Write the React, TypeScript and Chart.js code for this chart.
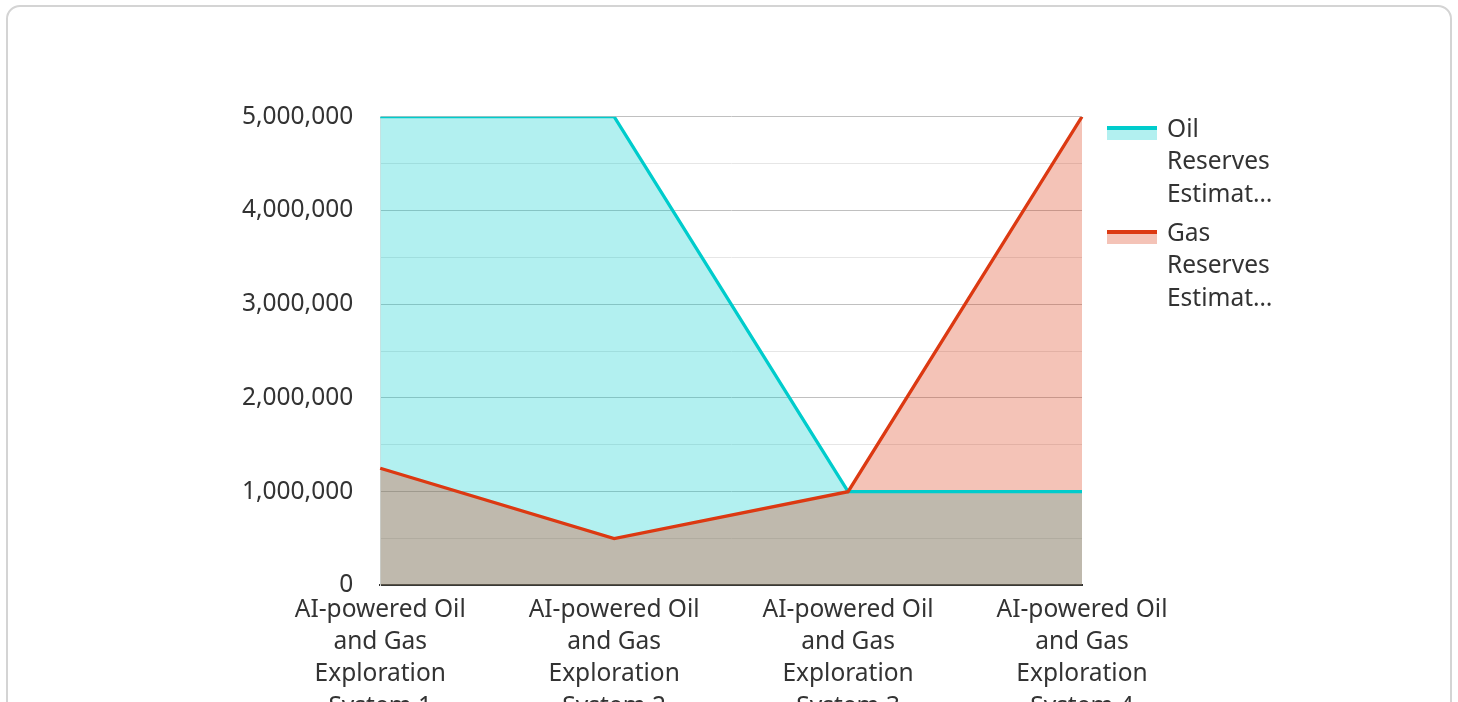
import React, { useEffect, useRef } from "react";
import { Chart, registerables } from "chart.js";

Chart.register(...registerables);

const categories: string[][] = [
  ["AI-powered Oil", "and Gas", "Exploration", "System 1"],
  ["AI-powered Oil", "and Gas", "Exploration", "System 2"],
  ["AI-powered Oil", "and Gas", "Exploration", "System 3"],
  ["AI-powered Oil", "and Gas", "Exploration", "System 4"],
];
const oilReserves: number[] = [5000000, 5000000, 1000000, 1000000];
const gasReserves: number[] = [1250000, 500000, 1000000, 5000000];
const seriesNames: string[] = ["Oil Reserves Estimat…", "Gas Reserves Estimat…"];
const seriesLegendLines: string[][] = [
  ["Oil", "Reserves", "Estimat…"],
  ["Gas", "Reserves", "Estimat…"],
];

const OIL = "#00cccc";
const OIL_FILL = "rgba(0,204,204,0.3)";
const GAS = "#dc3912";
const GAS_FILL = "rgba(220,57,18,0.3)";
const FONT = "'Noto Sans', 'Open Sans', sans-serif";
const TEXT = "#333333";
const FS = 24.5;

export default function App() {
  const ref = useRef<HTMLCanvasElement | null>(null);

  useEffect(() => {
    if (!ref.current) return;
    const chart = new Chart(ref.current, {
      type: "line",
      data: {
        labels: categories,
        datasets: [
          {
            label: seriesNames[0],
            data: oilReserves,
            borderColor: OIL,
            backgroundColor: OIL_FILL,
            borderWidth: 3.3,
            fill: "origin",
            pointRadius: 0,
            tension: 0,
            order: 1,
          },
          {
            label: seriesNames[1],
            data: gasReserves,
            borderColor: GAS,
            backgroundColor: GAS_FILL,
            borderWidth: 3.3,
            fill: "origin",
            pointRadius: 0,
            tension: 0,
            order: 0,
          },
        ],
      },
      options: {
        animation: false,
        responsive: false,
        maintainAspectRatio: false,
        layout: { padding: { left: 15, right: 118, top: 31, bottom: 11 } },
        plugins: {
          legend: { display: false },
          tooltip: { enabled: false },
          filler: { drawTime: "beforeDatasetsDraw" },
        } as any,
        scales: {
          x: {
            z: 1,
            offset: false,
            grid: { display: false, drawTicks: false },
            border: { display: true, color: "#333333", width: 2 },
            ticks: {
              color: TEXT,
              padding: 8,
              maxRotation: 0,
              autoSkip: false,
              font: { family: FONT, size: FS, lineHeight: 32.4 / FS },
            },
          },
          y: {
            min: 0,
            max: 5000000,
            grid: {
              drawTicks: false,
              color: (c: any) =>
                c.tick && c.tick.value % 1000000 === 0 ? "#c0c0c0" : "#e6e6e6",
            },
            border: { display: true, color: "#e6e6e6", width: 1 },
            ticks: {
              stepSize: 500000,
              color: TEXT,
              padding: 27,
              font: { family: FONT, size: FS },
              callback: (v: any) =>
                Number(v) % 1000000 === 0 ? Number(v).toLocaleString("en-US") : "",
            },
          },
        },
      },
    });
    return () => chart.destroy();
  }, []);

  const legendColors = [
    { line: OIL, fill: OIL_FILL },
    { line: GAS, fill: GAS_FILL },
  ];

  return (
    <div
      style={{
        position: "absolute",
        left: 0,
        top: 0,
        width: 1458,
        height: 702,
        overflow: "hidden",
        background: "#ffffff",
      }}
    >
      <div
        style={{
          position: "absolute",
          left: 6,
          top: 5,
          width: 1446,
          height: 800,
          boxSizing: "border-box",
          border: "2px solid #d4d4d4",
          borderRadius: 14,
          background: "#ffffff",
        }}
      />
      <canvas
        ref={ref}
        width={1000}
        height={667}
        style={{ position: "absolute", left: 200, top: 75, width: 1000, height: 667 }}
      />
      {seriesLegendLines.map((lines, i) => (
        <div
          key={i}
          style={{
            position: "absolute",
            left: 1107,
            top: 112 + i * 104,
            fontFamily: FONT,
            fontSize: FS,
            lineHeight: "32.4px",
            color: TEXT,
          }}
        >
          <div
            style={{
              position: "absolute",
              left: 0,
              top: 14,
              width: 50,
              height: 4,
              background: legendColors[i].line,
            }}
          />
          <div
            style={{
              position: "absolute",
              left: 0,
              top: 18,
              width: 50,
              height: 10,
              background: legendColors[i].fill,
            }}
          />
          <div style={{ marginLeft: 60, whiteSpace: "nowrap" }}>
            {lines.map((t, j) => (
              <div key={j}>{t}</div>
            ))}
          </div>
        </div>
      ))}
    </div>
  );
}
